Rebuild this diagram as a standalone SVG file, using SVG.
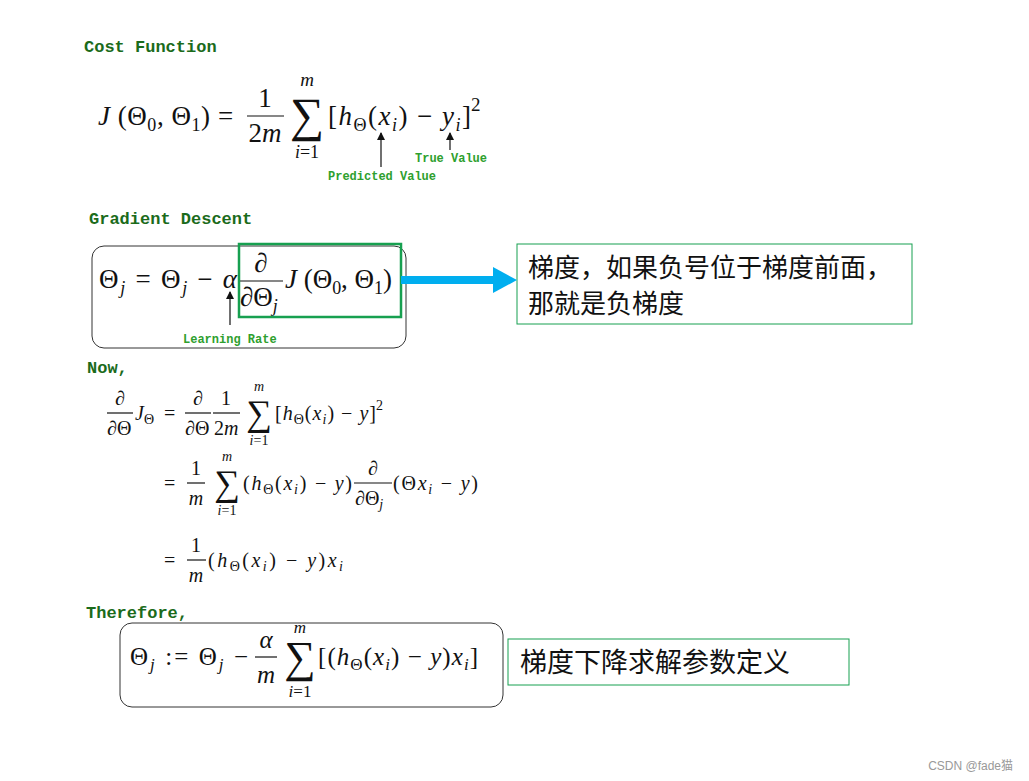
<svg xmlns="http://www.w3.org/2000/svg" width="1029" height="781" viewBox="0 0 1029 781">
<style>
.h{font-family:"Liberation Mono",monospace;font-weight:bold;fill:#1b6b1b;font-size:17px}
.l{font-family:"Liberation Mono",monospace;font-weight:bold;fill:#2ea02e;font-size:12px}
.m{font-family:"Liberation Serif","DejaVu Serif",serif;fill:#111}
.i{font-style:italic}
.cjk{font-family:"Noto Sans CJK SC",sans-serif;fill:#111}
.fl{stroke:#111;stroke-width:1.2}
.ar{stroke:#111;stroke-width:1.2;marker-end:url(#a)}
</style>
<defs><marker id="a" markerWidth="8" markerHeight="8" refX="7" refY="4" orient="auto" markerUnits="userSpaceOnUse"><path d="M0,0 L8,4 L0,8 Z" fill="#111"/></marker></defs>
<rect width="1029" height="781" fill="#fff"/>
<text class="h" x="84" y="52">Cost Function</text>
<text class="h" x="89" y="224">Gradient Descent</text>
<text class="h" x="87" y="373">Now,</text>
<text class="h" x="86" y="618">Therefore,</text>

<g id="cost" class="m" font-size="27">
<text x="98" y="125" textLength="112" lengthAdjust="spacing"><tspan class="i">J</tspan> (Θ<tspan font-size="18" dy="6">0</tspan><tspan dy="-6">, Θ</tspan><tspan font-size="18" dy="6">1</tspan><tspan dy="-6">)</tspan></text>
<text x="218" y="125">=</text>
<text x="265" y="107" text-anchor="middle">1</text>
<line class="fl" x1="247" y1="116" x2="284" y2="116"/>
<text x="265" y="142" text-anchor="middle">2<tspan class="i">m</tspan></text>
<text x="307" y="131" font-size="48" text-anchor="middle">∑</text>
<text x="307" y="86" font-size="19" class="i" text-anchor="middle">m</text>
<text x="307" y="158" font-size="18" text-anchor="middle"><tspan class="i">i</tspan>=1</text>
<text x="328" y="125" textLength="143" lengthAdjust="spacing">[<tspan class="i">h</tspan><tspan font-size="18" dy="6">Θ</tspan><tspan dy="-6">(</tspan><tspan class="i">x</tspan><tspan class="i" font-size="18" dy="6">i</tspan><tspan dy="-6">) − </tspan><tspan class="i">y</tspan><tspan class="i" font-size="18" dy="6">i</tspan><tspan dy="-6">]</tspan></text>
<text x="471" y="111" font-size="19">2</text>
</g>
<g id="labels1">
<text class="l" x="328" y="180">Predicted Value</text>
<text class="l" x="415" y="162">True Value</text>
</g>

<g id="gd">
<rect x="92" y="246" width="314" height="102" rx="12" fill="none" stroke="#333" stroke-width="1"/>
<g class="m" font-size="27">
<text x="99" y="288" textLength="138" lengthAdjust="spacing">Θ<tspan class="i" font-size="18" dy="6">j</tspan><tspan dy="-6"> = Θ</tspan><tspan class="i" font-size="18" dy="6">j</tspan><tspan dy="-6"> − </tspan><tspan class="i">α</tspan></text>
<text x="261" y="272" text-anchor="middle">∂</text>
<line class="fl" x1="240" y1="281" x2="283" y2="281"/>
<text x="240" y="306">∂Θ<tspan class="i" font-size="18" dy="6">j</tspan></text>
<text x="285" y="288" textLength="107" lengthAdjust="spacing"><tspan class="i">J</tspan> (Θ<tspan font-size="18" dy="6">0</tspan><tspan dy="-6">, Θ</tspan><tspan font-size="18" dy="6">1</tspan><tspan dy="-6">)</tspan></text>
</g>
<rect x="239" y="244" width="162" height="73" fill="none" stroke="#17a050" stroke-width="2.5"/>
<text class="l" x="183" y="343">Learning Rate</text>
</g>

<g id="note1">
<rect x="517" y="244" width="395" height="80" fill="#fff" stroke="#17a050" stroke-width="1"/>
<text class="cjk" x="528" y="277" font-size="26">梯度，如果负号位于梯度前面，</text>
<text class="cjk" x="528" y="313" font-size="26">那就是负梯度</text>
</g>

<g id="now" class="m" font-size="20">
<text x="120" y="405" text-anchor="middle">∂</text>
<line class="fl" x1="107" y1="413" x2="133" y2="413"/>
<text x="107" y="435">∂Θ</text>
<text x="135" y="420"><tspan class="i">J</tspan><tspan font-size="14" dy="4">Θ</tspan></text>
<text x="164" y="420">=</text>
<text x="198" y="405" text-anchor="middle">∂</text>
<line class="fl" x1="185" y1="413" x2="211" y2="413"/>
<text x="185" y="435">∂Θ</text>
<text x="226" y="405" text-anchor="middle">1</text>
<line class="fl" x1="213" y1="413" x2="240" y2="413"/>
<text x="214" y="435">2<tspan class="i">m</tspan></text>
<text x="259" y="425" font-size="36" text-anchor="middle">∑</text>
<text x="259" y="391" font-size="14" class="i" text-anchor="middle">m</text>
<text x="259" y="445" font-size="14" text-anchor="middle"><tspan class="i">i</tspan>=1</text>
<text x="275" y="420" textLength="101" lengthAdjust="spacing">[<tspan class="i">h</tspan><tspan font-size="14" dy="4">Θ</tspan><tspan dy="-4">(</tspan><tspan class="i">x</tspan><tspan class="i" font-size="14" dy="4">i</tspan><tspan dy="-4">) − </tspan><tspan class="i">y</tspan>]</text>
<text x="376" y="410" font-size="14">2</text>

<text x="164" y="490">=</text>
<text x="196" y="475" text-anchor="middle">1</text>
<line class="fl" x1="187" y1="483" x2="205" y2="483"/>
<text x="196" y="505" class="i" text-anchor="middle">m</text>
<text x="227" y="495" font-size="36" text-anchor="middle">∑</text>
<text x="227" y="461" font-size="14" class="i" text-anchor="middle">m</text>
<text x="227" y="515" font-size="14" text-anchor="middle"><tspan class="i">i</tspan>=1</text>
<text x="243" y="490" textLength="109" lengthAdjust="spacing">(<tspan class="i">h</tspan><tspan font-size="14" dy="4">Θ</tspan><tspan dy="-4">(</tspan><tspan class="i">x</tspan><tspan class="i" font-size="14" dy="4">i</tspan><tspan dy="-4">) − </tspan><tspan class="i">y</tspan>)</text>
<text x="373" y="475" text-anchor="middle">∂</text>
<line class="fl" x1="354" y1="483" x2="392" y2="483"/>
<text x="355" y="505">∂Θ<tspan class="i" font-size="14" dy="4">j</tspan></text>
<text x="393" y="490" textLength="85" lengthAdjust="spacing">(Θ<tspan class="i">x</tspan><tspan class="i" font-size="14" dy="4">i</tspan><tspan dy="-4"> − </tspan><tspan class="i">y</tspan>)</text>

<text x="164" y="567">=</text>
<text x="196" y="552" text-anchor="middle">1</text>
<line class="fl" x1="187" y1="560" x2="206" y2="560"/>
<text x="196" y="582" class="i" text-anchor="middle">m</text>
<text x="208" y="567" textLength="135" lengthAdjust="spacing">(<tspan class="i">h</tspan><tspan font-size="14" dy="4">Θ</tspan><tspan dy="-4">(</tspan><tspan class="i">x</tspan><tspan class="i" font-size="14" dy="4">i</tspan><tspan dy="-4">) − </tspan><tspan class="i">y</tspan>)<tspan class="i">x</tspan><tspan class="i" font-size="14" dy="4">i</tspan></text>
</g>

<g id="therefore">
<rect x="120" y="623" width="383" height="84" rx="12" fill="none" stroke="#333" stroke-width="1"/>
<g class="m" font-size="25">
<text x="130" y="665" textLength="118" lengthAdjust="spacing">Θ<tspan class="i" font-size="17" dy="5">j</tspan><tspan dy="-5"> := Θ</tspan><tspan class="i" font-size="17" dy="5">j</tspan><tspan dy="-5"> −</tspan></text>
<text x="266" y="648" class="i" text-anchor="middle">α</text>
<line class="fl" x1="255" y1="657" x2="277" y2="657"/>
<text x="266" y="683" class="i" text-anchor="middle">m</text>
<text x="300" y="672" font-size="44" text-anchor="middle">∑</text>
<text x="300" y="633" font-size="17" class="i" text-anchor="middle">m</text>
<text x="300" y="697" font-size="17" text-anchor="middle"><tspan class="i">i</tspan>=1</text>
<text x="318" y="665" textLength="160" lengthAdjust="spacing">[(<tspan class="i">h</tspan><tspan font-size="17" dy="5">Θ</tspan><tspan dy="-5">(</tspan><tspan class="i">x</tspan><tspan class="i" font-size="17" dy="5">i</tspan><tspan dy="-5">) − </tspan><tspan class="i">y</tspan>)<tspan class="i">x</tspan><tspan class="i" font-size="17" dy="5">i</tspan><tspan dy="-5">]</tspan></text>
</g>
</g>

<g id="note2">
<rect x="508" y="639" width="341" height="46" fill="#fff" stroke="#17a050" stroke-width="1"/>
<text class="cjk" x="520" y="672" font-size="27">梯度下降求解参数定义</text>
</g>

<g id="connectors">
<line class="ar" x1="381" y1="167" x2="381" y2="133"/>
<line class="ar" x1="450" y1="150" x2="450" y2="133"/>
<line class="ar" x1="230" y1="325" x2="230" y2="292"/>
<line x1="401" y1="280" x2="495" y2="280" stroke="#00aeef" stroke-width="8"/>
<polygon points="493,267 517,280 493,293" fill="#00aeef"/>
</g>
<text x="1013" y="770" font-family="Liberation Sans, Noto Sans CJK SC, sans-serif" font-size="12" fill="#999" text-anchor="end">CSDN @fade猫</text>
</svg>
